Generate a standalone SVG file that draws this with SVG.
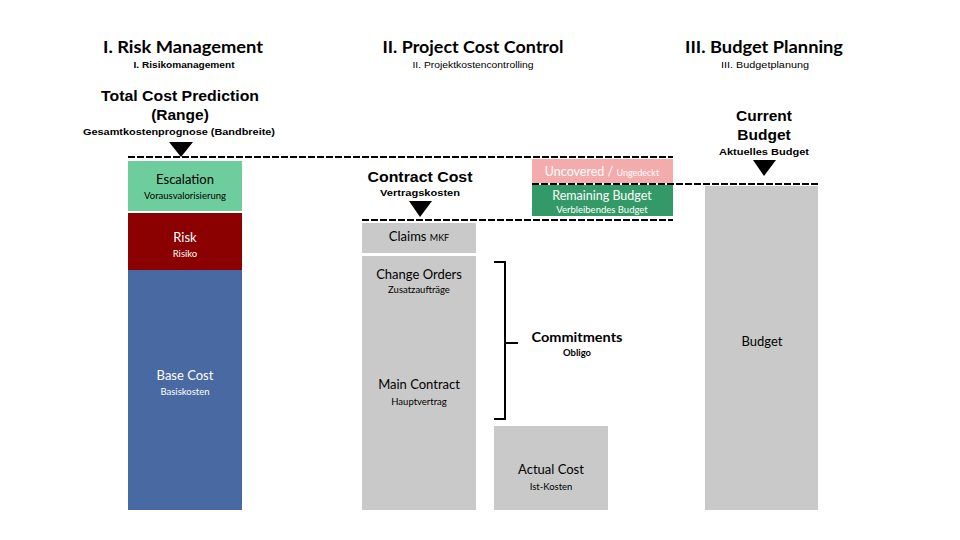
<svg xmlns="http://www.w3.org/2000/svg" width="960" height="540" viewBox="0 0 960 540">
<style>
.h{font-family:Lato,"Open Sans",sans-serif;font-size:17.5px;font-weight:bold;fill:#000;text-anchor:middle}
.hs{font-family:"Liberation Sans",Arial,sans-serif;font-size:9px;font-weight:bold;fill:#000;text-anchor:middle}
.a{font-family:"Liberation Sans",Arial,sans-serif;font-size:15.5px;font-weight:bold;fill:#000;text-anchor:middle}
.as{font-family:"Liberation Sans",Arial,sans-serif;font-size:9px;font-weight:bold;fill:#000;text-anchor:middle}
.t{font-family:Lato,"Open Sans",sans-serif;font-size:13px;text-anchor:middle}
.s{font-family:Lato,"Open Sans",sans-serif;font-size:9.5px;text-anchor:middle}
.k{fill:#000}.w{fill:#fff}
.dash{stroke:#000;stroke-width:1.8;stroke-dasharray:7 2;fill:none}
.br{stroke:#000;stroke-width:2;fill:none}
.grey{fill:#c9c9c9}
</style>
<g id="headers">
<text class="h" x="183" y="53" textLength="160" lengthAdjust="spacingAndGlyphs">I. Risk Management</text>
<text class="hs" x="184" y="68" textLength="101" lengthAdjust="spacingAndGlyphs">I. Risikomanagement</text>
<text class="h" x="473" y="53" textLength="181" lengthAdjust="spacingAndGlyphs">II. Project Cost Control</text>
<text class="hs" x="473" y="68" textLength="121" lengthAdjust="spacingAndGlyphs" style="font-weight:normal">II. Projektkostencontrolling</text>
<text class="h" x="764" y="53" textLength="158" lengthAdjust="spacingAndGlyphs">III. Budget Planning</text>
<text class="hs" x="765" y="68" textLength="88" lengthAdjust="spacingAndGlyphs" style="font-weight:normal">III. Budgetplanung</text>
</g>
<g id="total-cost-prediction">
<text class="a" x="180" y="101" textLength="158" lengthAdjust="spacingAndGlyphs">Total Cost Prediction</text>
<text class="a" x="180" y="120">(Range)</text>
<text class="as" x="179" y="135" textLength="192" lengthAdjust="spacingAndGlyphs">Gesamtkostenprognose (Bandbreite)</text>
<polygon class="k" points="169,142 193,142 181,157"/>
</g>
<g id="escalation">
<rect x="128" y="161" width="114" height="50" fill="#6dcd9c"/>
<text class="t k" x="185" y="184">Escalation</text>
<text class="s k" x="185" y="199">Vorausvalorisierung</text>
</g>
<g id="risk">
<rect x="128" y="213" width="114" height="57" fill="#8b0000"/>
<text class="t w" x="185" y="242">Risk</text>
<text class="s w" x="185" y="257">Risiko</text>
</g>
<g id="base-cost">
<rect x="128" y="270" width="114" height="240" fill="#4869a2"/>
<text class="t w" x="185" y="380">Base Cost</text>
<text class="s w" x="185" y="395">Basiskosten</text>
</g>
<g id="contract-cost">
<text class="a" x="420" y="182" textLength="105" lengthAdjust="spacingAndGlyphs">Contract Cost</text>
<text class="as" x="420" y="196" textLength="80" lengthAdjust="spacingAndGlyphs">Vertragskosten</text>
<polygon class="k" points="409,201 432,201 420,217"/>
</g>
<g id="uncovered">
<rect x="532" y="159" width="141" height="24" fill="#f4abab"/>
<text class="w" x="602" y="176" style="font-family:Lato,'Open Sans',sans-serif;text-anchor:middle"><tspan font-size="12.5">Uncovered / </tspan><tspan font-size="9">Ungedeckt</tspan></text>
</g>
<g id="remaining-budget">
<rect x="532" y="185" width="141" height="31" fill="#339966"/>
<text class="w" x="602" y="200" style="font-family:Lato,'Open Sans',sans-serif;font-size:12.5px;text-anchor:middle">Remaining Budget</text>
<text class="s w" x="602" y="213">Verbleibendes Budget</text>
</g>
<g id="claims">
<rect class="grey" x="362" y="223" width="114" height="30"/>
<text class="k" x="419" y="241" style="font-family:Lato,'Open Sans',sans-serif;text-anchor:middle"><tspan font-size="13">Claims </tspan><tspan font-size="9">MKF</tspan></text>
</g>
<g id="change-orders-main-contract">
<rect class="grey" x="362" y="256" width="114" height="254"/>
<text class="t k" x="419" y="279">Change Orders</text>
<text class="s k" x="419" y="293">Zusatzaufträge</text>
<text class="t k" x="419" y="389">Main Contract</text>
<text class="s k" x="419" y="405">Hauptvertrag</text>
</g>
<g id="commitments">
<text class="t k" x="577" y="342" textLength="91" lengthAdjust="spacingAndGlyphs" style="font-weight:bold;font-size:12.5px">Commitments</text>
<text class="s k" x="577" y="356" textLength="28" lengthAdjust="spacingAndGlyphs" style="font-weight:bold;font-size:8.5px">Obligo</text>
</g>
<g id="actual-cost">
<rect class="grey" x="494" y="426" width="114" height="84"/>
<text class="t k" x="551" y="474">Actual Cost</text>
<text class="s k" x="551" y="490">Ist-Kosten</text>
</g>
<g id="current-budget">
<text class="a" x="764" y="121">Current</text>
<text class="a" x="764" y="140">Budget</text>
<text class="as" x="764" y="155" textLength="90" lengthAdjust="spacingAndGlyphs">Aktuelles Budget</text>
<polygon class="k" points="753,160 776,160 764,176"/>
</g>
<g id="budget">
<rect class="grey" x="705" y="186" width="113" height="324"/>
<text class="t k" x="762" y="346">Budget</text>
</g>
<g id="connectors">
<line class="dash" x1="128" y1="157" x2="673" y2="157"/>
<line class="dash" x1="532" y1="184" x2="818" y2="184"/>
<line class="dash" x1="362" y1="220" x2="673" y2="220"/>
<path class="br" d="M494,262 H505 V419 H494 M505,343 H518"/>
</g>
</svg>
